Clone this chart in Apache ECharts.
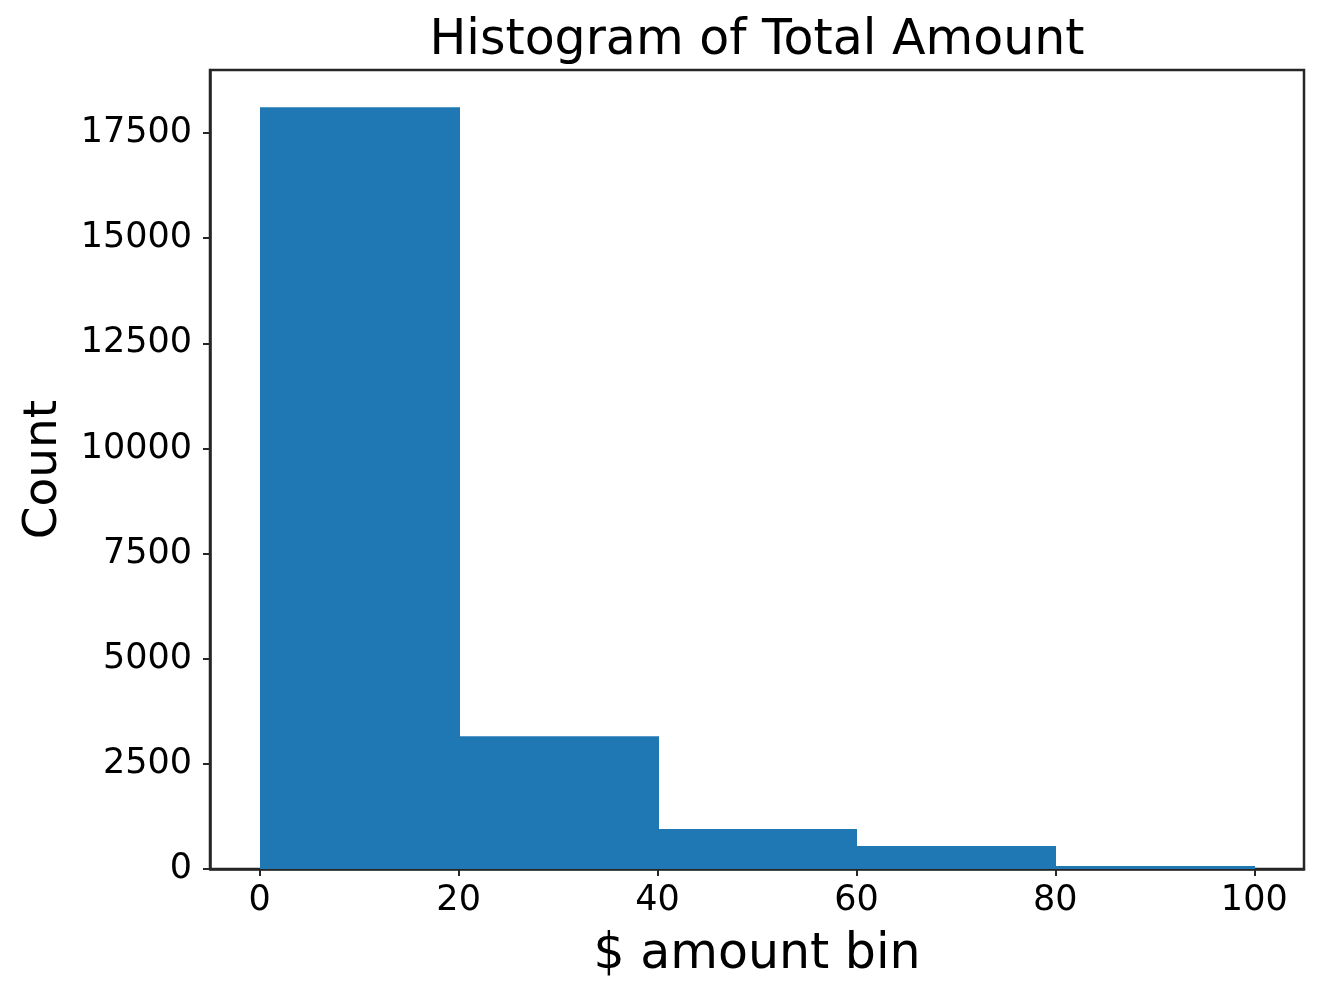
<!DOCTYPE html>
<html>
<head>
<meta charset="utf-8">
<script src="https://cdn.jsdelivr.net/npm/echarts@6/dist/echarts.min.js"></script>
<style>
  html, body { margin: 0; padding: 0; background: #fff; }
  #main { width: 1320px; height: 996px; }
</style>
</head>
<body>
<div id="main"></div>
<script>
// bin edges and counts
var binEdges = [0, 20, 40, 60, 80, 100];
var counts = [18117, 3154, 949, 545, 71];
var xTicks = [0, 20, 40, 60, 80, 100];
var yTicks = [0, 2500, 5000, 7500, 10000, 12500, 15000, 17500];

var bins = [];
for (var i = 0; i < counts.length; i++) {
  bins.push([binEdges[i], binEdges[i + 1], counts[i]]);
}

var font = 'DejaVu Sans';
var ink = '#262626';

var myChart = echarts.init(document.getElementById('main'));

myChart.setOption({
  animation: false,
  title: {
    text: 'Histogram of Total Amount',
    left: 752,
    textAlign: 'center',
    top: 12,
    textStyle: { fontFamily: font, fontSize: 49, fontWeight: 'normal', color: '#000' }
  },
  grid: {
    left: 210, right: 16, top: 70, bottom: 127,
    show: true, borderColor: ink, borderWidth: 2.5, backgroundColor: '#fff'
  },
  xAxis: {
    type: 'value',
    min: -5, max: 105,
    name: '$ amount bin',
    nameLocation: 'middle',
    nameGap: 62,
    nameTextStyle: { fontFamily: font, fontSize: 49, color: '#000' },
    splitLine: { show: false },
    axisLine: { show: true, onZero: false, lineStyle: { color: ink, width: 2.5 } },
    axisTick: { show: true, customValues: xTicks, length: 7, lineStyle: { color: ink, width: 2 } },
    axisLabel: { customValues: xTicks, margin: 14, fontFamily: font, fontSize: 35, color: '#000' }
  },
  yAxis: {
    type: 'value',
    min: 0, max: 19000,
    name: 'Count',
    nameLocation: 'middle',
    nameGap: 143,
    nameTextStyle: { fontFamily: font, fontSize: 47, color: '#000' },
    splitLine: { show: false },
    axisLine: { show: true, onZero: false, lineStyle: { color: ink, width: 2.5 } },
    axisTick: { show: true, customValues: yTicks, length: 7, lineStyle: { color: ink, width: 2 } },
    axisLabel: {
      customValues: yTicks, margin: 18, fontFamily: font, fontSize: 35, color: '#000',
      formatter: function (v) { return String(v); }
    }
  },
  series: [{
    type: 'custom',
    data: bins,
    encode: { x: [0, 1], y: 2 },
    renderItem: function (params, api) {
      var p0 = api.coord([api.value(0), api.value(2)]);
      var p1 = api.coord([api.value(1), 0]);
      var x0 = Math.round(p0[0]), x1 = Math.round(p1[0]);
      return {
        type: 'rect',
        shape: { x: x0, y: p0[1], width: x1 - x0 + 1, height: p1[1] - p0[1] },
        style: { fill: '#1f77b4' }
      };
    }
  }]
});
</script>
</body>
</html>
